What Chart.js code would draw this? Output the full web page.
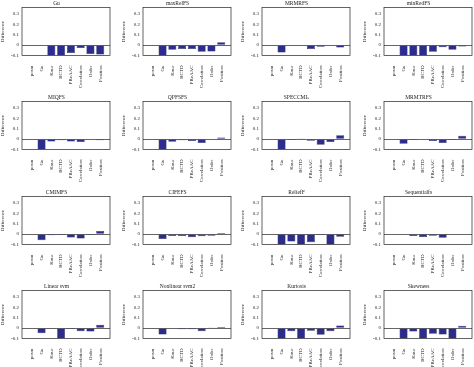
<!DOCTYPE html>
<html>
<head>
<meta charset="utf-8">
<script src="https://cdn.jsdelivr.net/npm/chart.js@4.4.1/dist/chart.umd.min.js"></script>
<style>
  body { margin: 0; background: #fff; }
  #wrap { position: relative; width: 474px; height: 367px; overflow: hidden; background: #fff; }
  #wrap canvas { position: absolute; }
</style>
</head>
<body>
<div id="wrap"></div>
<script>
// categories on the x axis (same for every panel)
var categories = ['posm', 'Gu', 'Knur', 'BCTD', 'PReAAC', 'Correlation', 'Order', 'Position'];
var yTicks = [-0.1, 0, 0.1, 0.2, 0.3];

var titles = ['Gu', 'maxRelFS', 'MRMRFS', 'minRedFS',
              'MIQFS', 'QPFSFS', 'SPECCMI\u209B', 'MRMTRFS',
              'CMIMFS', 'CIFEFS', 'ReliefF', 'Sequentialfs',
              'Linear svm', 'Nonlinear svm2', 'Kurtosis', 'Skewness'];

// difference values per panel (bars below -0.1 are clipped)
var guDiff        = [0, 0, -0.1, -0.1, -0.075, -0.028, -0.085, -0.09];
var maxRelDiff    = [0, -0.1, -0.045, -0.038, -0.038, -0.065, -0.062, 0.028];
var mrmrDiff      = [0, -0.07, 0.004, 0, -0.038, -0.015, -0.005, -0.022];
var minRedDiff    = [0, -0.1, -0.1, -0.1, -0.065, -0.02, -0.045, -0.013];
var miqDiff       = [0, -0.1, -0.022, -0.012, -0.022, -0.028, -0.005, -0.012];
var qpfsDiff      = [0, -0.1, -0.025, -0.012, -0.018, -0.038, 0, 0.015];
var speccmiDiff   = [0, -0.1, -0.008, 0.005, -0.015, -0.055, -0.028, 0.037];
var mrmtrDiff     = [0, -0.045, -0.008, 0.004, -0.018, -0.038, -0.008, 0.032];
var cmimDiff      = [0, -0.058, -0.01, -0.008, -0.033, -0.042, -0.008, 0.03];
var cifeDiff      = [0, -0.048, -0.018, -0.018, -0.03, -0.02, -0.015, 0.01];
var reliefDiff    = [0, -0.1, -0.072, -0.1, -0.078, -0.008, -0.1, -0.025];
var seqDiff       = [0, 0, -0.018, -0.027, -0.015, -0.035, 0, 0];
var linSvmDiff    = [0, -0.05, -0.006, -0.1, -0.008, -0.03, -0.033, 0.033];
var nonlinSvmDiff = [0, -0.062, -0.005, -0.01, -0.01, -0.03, 0.005, 0.01];
var kurtosisDiff  = [0, -0.1, -0.03, -0.1, -0.025, -0.065, -0.03, 0.025];
var skewnessDiff  = [0, -0.1, -0.033, -0.1, -0.055, -0.062, -0.1, 0.022];

var panels = [guDiff, maxRelDiff, mrmrDiff, minRedDiff,
              miqDiff, qpfsDiff, speccmiDiff, mrmtrDiff,
              cmimDiff, cifeDiff, reliefDiff, seqDiff,
              linSvmDiff, nonlinSvmDiff, kurtosisDiff, skewnessDiff];

var colX = [0, 121, 240, 362];
var rowY = [0, 94, 189, 283];
var W = 118, H = 92;
var FONT = "'Liberation Serif', 'DejaVu Serif', serif";

var framePlugin = {
  id: 'frame',
  afterDraw: function(chart) {
    var a = chart.chartArea, c = chart.ctx;
    c.save();
    c.strokeStyle = '#222';
    c.lineWidth = 0.7;
    c.strokeRect(a.left, a.top, a.right - a.left, a.bottom - a.top);
    c.restore();
  }
};

var wrap = document.getElementById('wrap');

for (var i = 0; i < panels.length; i++) {
  var cv = document.createElement('canvas');
  cv.width = W; cv.height = H;
  cv.style.left = colX[i % 4] + 'px';
  cv.style.top = rowY[Math.floor(i / 4)] + 'px';
  cv.style.width = W + 'px'; cv.style.height = H + 'px';
  wrap.appendChild(cv);

  // pad one empty slot at each end so the axis runs 0..9
  var labels = [''].concat(categories, ['']);
  var data = [null].concat(panels[i], [null]);

  new Chart(cv, {
    type: 'bar',
    data: {
      labels: labels,
      datasets: [{
        data: data,
        backgroundColor: '#2c2c8c',
        borderColor: '#15154a',
        borderWidth: 0.5,
        categoryPercentage: 1,
        barPercentage: 0.82
      }]
    },
    options: {
      responsive: false,
      animation: false,
      devicePixelRatio: 1,
      layout: { padding: { left: 0, right: 5, top: 0, bottom: 0 } },
      plugins: {
        legend: { display: false },
        tooltip: { enabled: false },
        title: {
          display: true,
          text: titles[i],
          color: '#222',
          font: { family: FONT, size: 5.5, weight: 'normal' },
          padding: { top: 0, bottom: 1 }
        }
      },
      scales: {
        x: {
          offset: false,
          grid: { display: false },
          border: { display: false },
          ticks: {
            autoSkip: false,
            minRotation: 90,
            maxRotation: 90,
            padding: 2,
            color: '#222',
            font: { family: FONT, size: 5 }
          },
          afterFit: function(s) { s.height = 36.5; }
        },
        y: {
          min: -0.1,
          max: 0.36,
          afterBuildTicks: function(s) {
            s.ticks = yTicks.map(function(v) { return { value: v }; });
          },
          grid: {
            drawTicks: false,
            lineWidth: 0.7,
            color: function(ctx) { return ctx.tick && ctx.tick.value === 0 ? '#222' : 'rgba(0,0,0,0)'; }
          },
          border: { display: false },
          ticks: {
            padding: 3,
            color: '#222',
            font: { family: FONT, size: 5 },
            callback: function(v) { return String(Math.round(v * 10) / 10); }
          },
          title: {
            display: true,
            text: 'Difference',
            color: '#222',
            font: { family: FONT, size: 5 },
            padding: 0
          },
          afterFit: function(s) { s.width = 22; }
        }
      }
    },
    plugins: [framePlugin]
  });
}
</script>
</body>
</html>
